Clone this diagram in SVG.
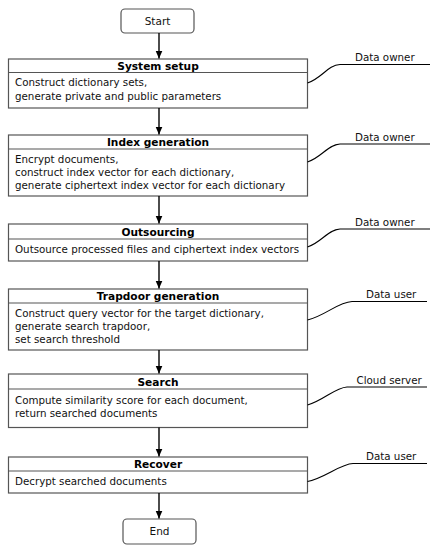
<svg xmlns="http://www.w3.org/2000/svg" width="439" height="550" viewBox="0 0 439 550">
<defs>
<marker id="ah" markerWidth="8" markerHeight="10" refX="8" refY="4" orient="auto" markerUnits="userSpaceOnUse">
<path d="M0,0.5 L8,4 L0,7.5 Z" fill="#000"/>
</marker>
<style>
.box{fill:#fff;stroke:#555;stroke-width:1.2}
.div{stroke:#555;stroke-width:1.2}
.hd{font-family:"DejaVu Sans",Verdana,sans-serif;font-size:10.6px;font-weight:bold;text-anchor:middle;fill:#000}
.bd{font-family:"DejaVu Sans",Verdana,sans-serif;font-size:10.3px;fill:#111}
.lb{font-family:"DejaVu Sans",Verdana,sans-serif;font-size:10.3px;fill:#111}
.tm{font-family:"DejaVu Sans",Verdana,sans-serif;font-size:10.5px;text-anchor:middle;fill:#111}
.ar{stroke:#000;stroke-width:1.4;fill:none;marker-end:url(#ah)}
.cv{stroke:#000;stroke-width:1.1;fill:none}
</style>
</defs>
<rect width="439" height="550" fill="#fff"/>
<g id="start"><rect class="box" x="121" y="9" width="73" height="24" rx="4"/><text class="tm" x="157.5" y="25">Start</text></g>
<g id="system-setup">
<rect class="box" x="8.5" y="59" width="299" height="49"/><line class="div" x1="8.5" y1="72.5" x2="307.5" y2="72.5"/>
<text class="hd" x="158" y="70">System setup</text>
<text class="bd" x="15" y="86">Construct dictionary sets,</text>
<text class="bd" x="15" y="100">generate private and public parameters</text>
</g>
<g id="index-generation">
<rect class="box" x="8.5" y="135" width="299" height="61"/><line class="div" x1="8.5" y1="149" x2="307.5" y2="149"/>
<text class="hd" x="158" y="146">Index generation</text>
<text class="bd" x="15" y="163">Encrypt documents,</text>
<text class="bd" x="15" y="176">construct index vector for each dictionary,</text>
<text class="bd" x="15" y="189">generate ciphertext index vector for each dictionary</text>
</g>
<g id="outsourcing">
<rect class="box" x="8.5" y="224" width="299" height="37"/><line class="div" x1="8.5" y1="239" x2="307.5" y2="239"/>
<text class="hd" x="158" y="236">Outsourcing</text>
<text class="bd" x="15" y="253">Outsource processed files and ciphertext index vectors</text>
</g>
<g id="trapdoor-generation">
<rect class="box" x="8.5" y="289" width="299" height="61"/><line class="div" x1="8.5" y1="303" x2="307.5" y2="303"/>
<text class="hd" x="158" y="300">Trapdoor generation</text>
<text class="bd" x="15" y="317">Construct query vector for the target dictionary,</text>
<text class="bd" x="15" y="330">generate search trapdoor,</text>
<text class="bd" x="15" y="343">set search threshold</text>
</g>
<g id="search">
<rect class="box" x="8.5" y="374" width="299" height="53.5"/><line class="div" x1="8.5" y1="389" x2="307.5" y2="389"/>
<text class="hd" x="158" y="386">Search</text>
<text class="bd" x="15" y="404">Compute similarity score for each document,</text>
<text class="bd" x="15" y="417">return searched documents</text>
</g>
<g id="recover">
<rect class="box" x="8.5" y="457" width="299" height="36"/><line class="div" x1="8.5" y1="471" x2="307.5" y2="471"/>
<text class="hd" x="158" y="468">Recover</text>
<text class="bd" x="15" y="485">Decrypt searched documents</text>
</g>
<g id="end"><rect class="box" x="123" y="519" width="73" height="25" rx="4"/><text class="tm" x="159.5" y="535">End</text></g>
<g id="connectors">
<line class="ar" x1="159" y1="33" x2="159" y2="58.5"/>
<line class="ar" x1="159" y1="108" x2="159" y2="134.5"/>
<line class="ar" x1="159" y1="196" x2="159" y2="223.5"/>
<line class="ar" x1="159" y1="261" x2="159" y2="288.5"/>
<line class="ar" x1="159" y1="350" x2="159" y2="373.5"/>
<line class="ar" x1="159" y1="427.5" x2="159" y2="456.5"/>
<line class="ar" x1="159" y1="493" x2="159" y2="518.5"/>
</g>
<g id="roles">
<path class="cv" d="M307.5,83 C321,79 328,65 340,64.5 H430"/>
<text class="lb" x="355" y="61">Data owner</text>
<path class="cv" d="M307.5,162 C321,158 328,144.5 340,144 H430"/>
<text class="lb" x="355" y="140.5">Data owner</text>
<path class="cv" d="M307.5,247 C321,243 328,229.5 340,229 H430"/>
<text class="lb" x="355" y="226">Data owner</text>
<path class="cv" d="M307.5,320 C325,316 338,302 352,301.5 H427"/>
<text class="lb" x="366" y="298">Data user</text>
<path class="cv" d="M307.5,405 C323,401 335,387.5 347,387 H427"/>
<text class="lb" x="356.5" y="384">Cloud server</text>
<path class="cv" d="M307.5,481.5 C325,478 340,464 353,463.5 H427"/>
<text class="lb" x="366" y="460">Data user</text>
</g>
</svg>
